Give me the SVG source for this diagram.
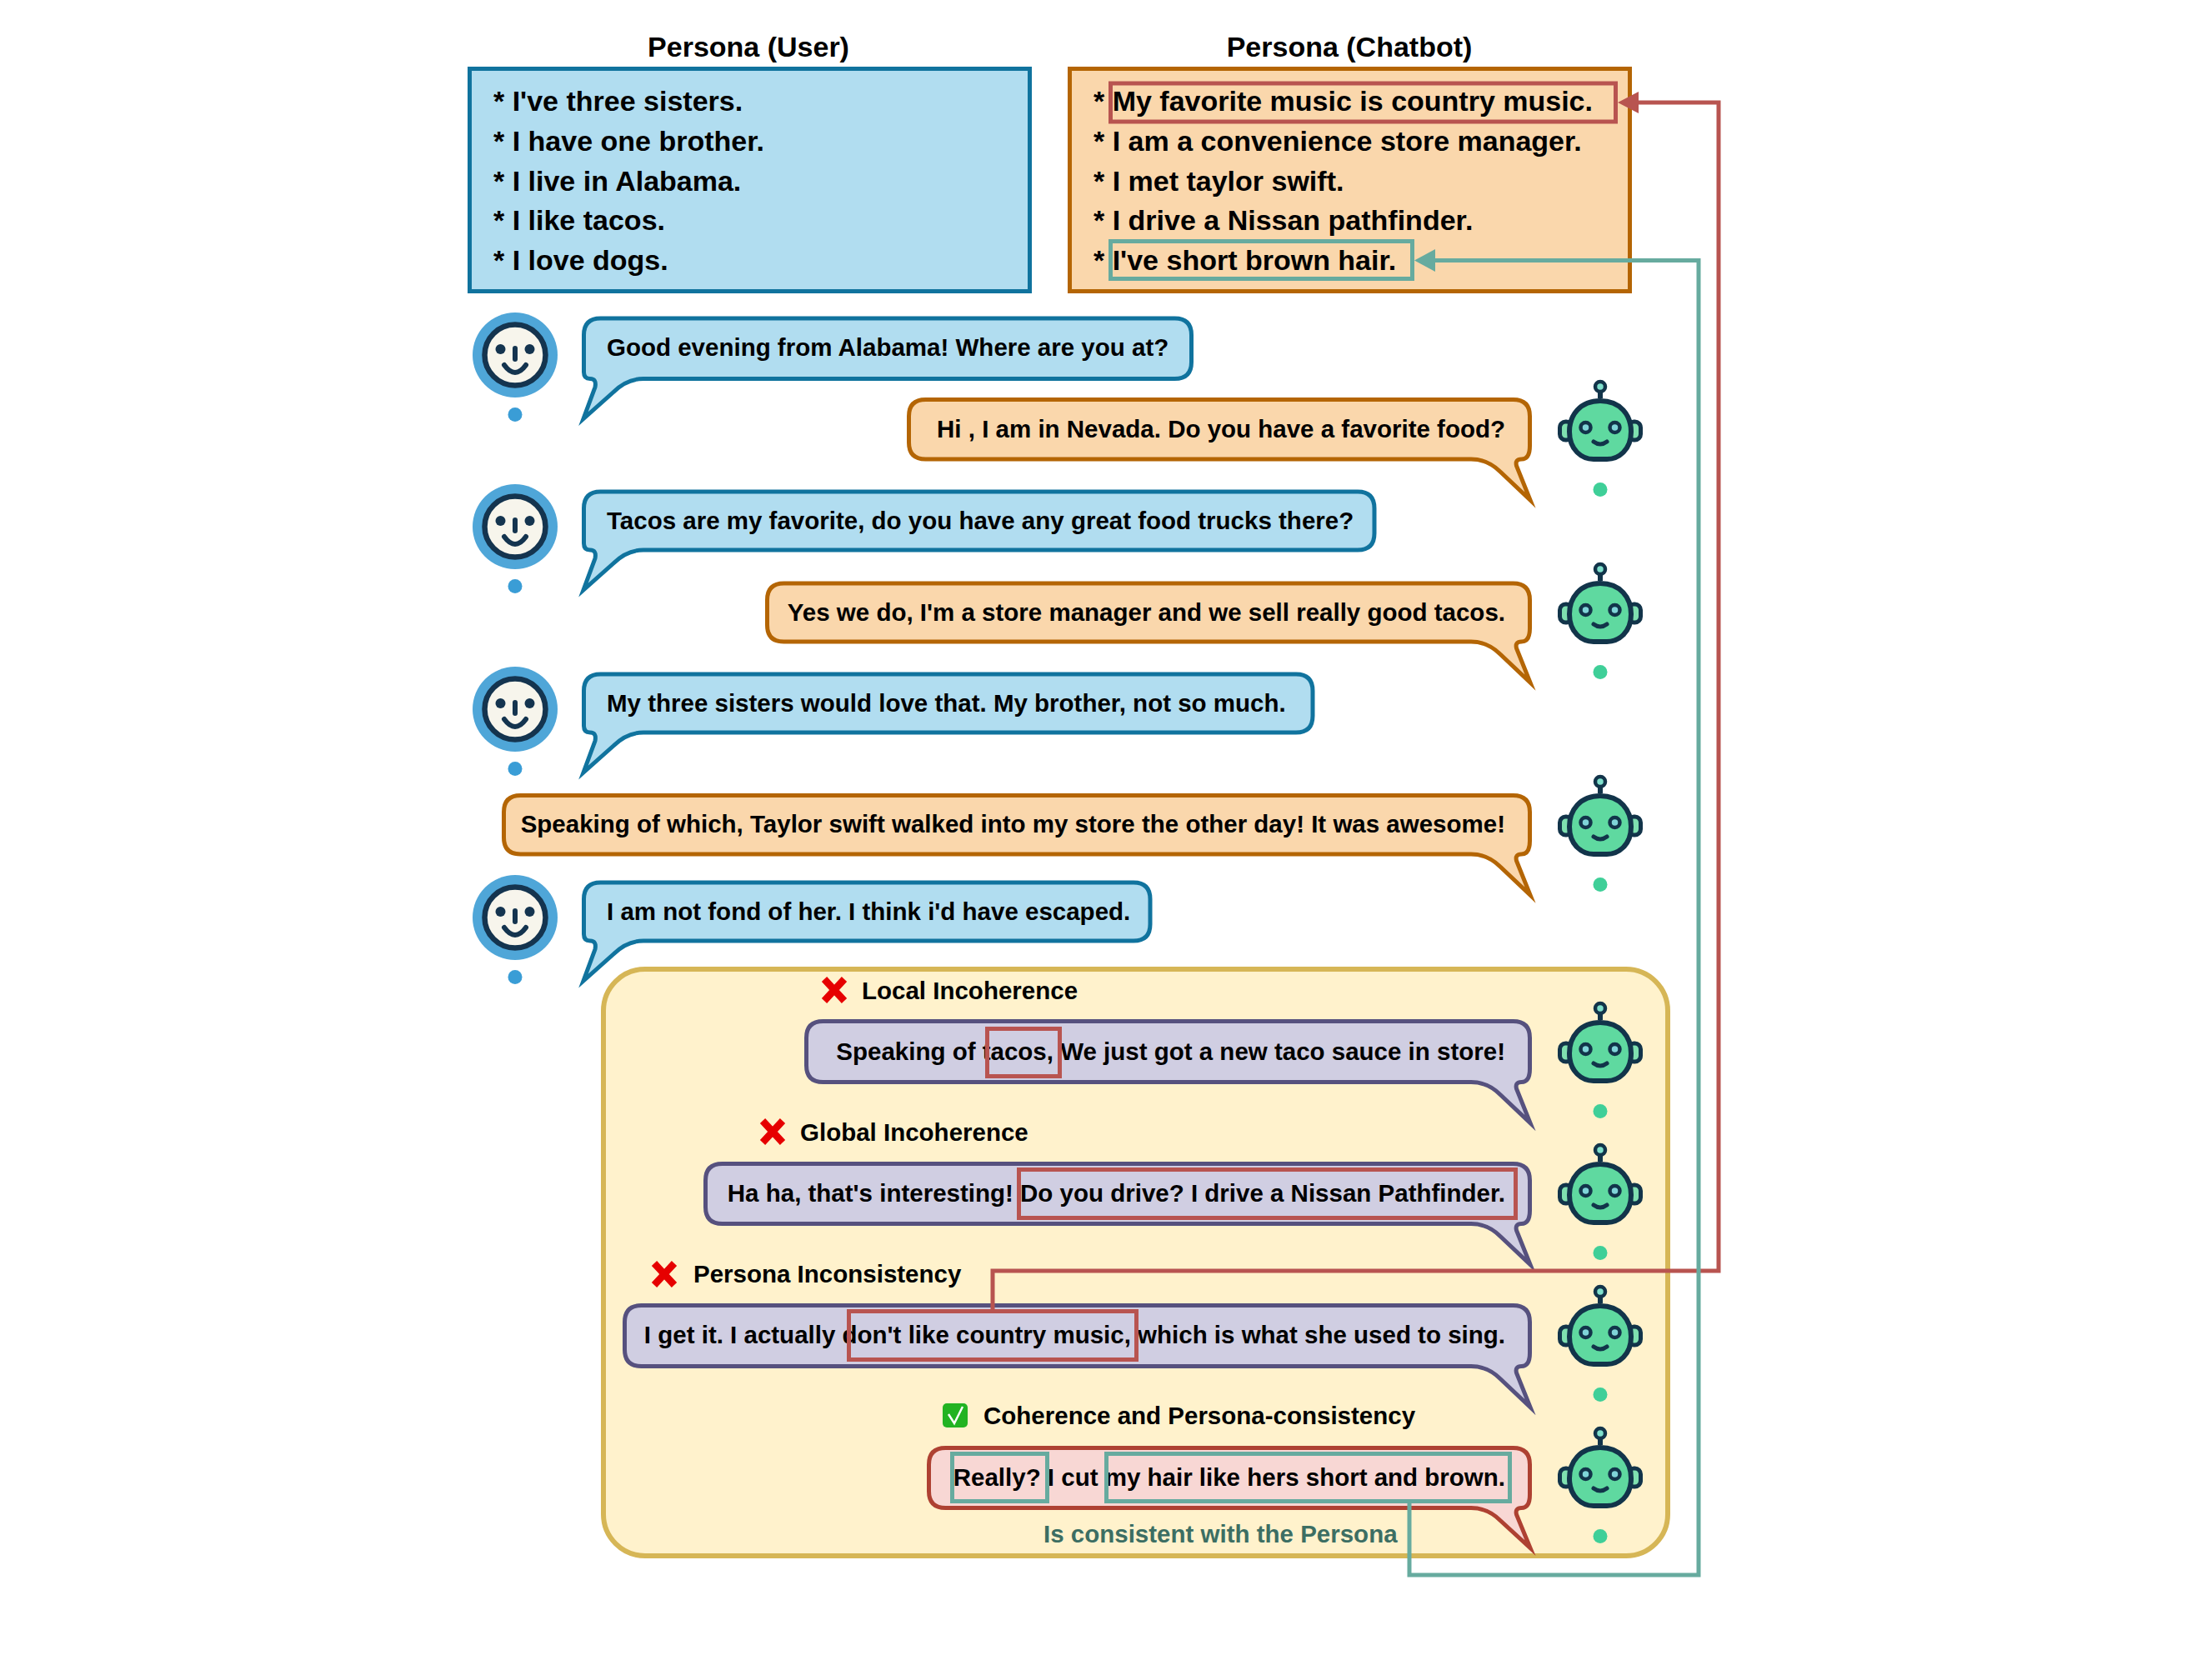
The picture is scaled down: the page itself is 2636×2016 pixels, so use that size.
<svg xmlns="http://www.w3.org/2000/svg" width="2636" height="2016" viewBox="0 0 2636 2016">
<style>
text{font-family:"Liberation Sans",Arial,sans-serif;font-weight:700;fill:#000}
.t{font-size:34px}.c{text-anchor:middle}.m{font-size:29.5px}.e{text-anchor:end}
.b{stroke-width:5;stroke-linejoin:miter;stroke-miterlimit:30}
.u{fill:#b1ddf0;stroke:#10739e}.o{fill:#fad7ac;stroke:#b46504}.p{fill:#d0cee2;stroke:#56517e}.k{fill:#f8d7d4;stroke:#ae4132}
.r{fill:none;stroke:#b85450;stroke-width:5}.g{fill:none;stroke:#67ab9f;stroke-width:5}
.x{fill:none;stroke:#e60000;stroke-width:8.5}
</style>
<defs>
<g id="userAvatar">
<circle r="51" fill="#4fa6d8"/><circle r="36.5" fill="#f7f5ec" stroke="#14344f" stroke-width="6.5"/>
<circle cx="-17.500" cy="-7" r="6" fill="#14344f"/><circle cx="17.500" cy="-7" r="6" fill="#14344f"/>
<path d="M0,-8V5" stroke="#14344f" stroke-width="6" stroke-linecap="round" fill="none"/>
<path d="M-13,12Q0,30 13,12" stroke="#14344f" stroke-width="6" stroke-linecap="round" fill="none"/>
<circle cy="71.500" r="8.500" fill="#3a9dd6"/>
</g>
<g id="botAvatar">
<path d="M0,-38V-47" stroke="#12344a" stroke-width="6"/>
<circle cy="-52" r="6" fill="#7fe0cc" stroke="#12344a" stroke-width="4.500"/>
<rect x="-48.500" y="-10" width="15" height="22" rx="7" fill="#7fe0b0" stroke="#12344a" stroke-width="5"/>
<rect x="33.500" y="-10" width="15" height="22" rx="7" fill="#7fe0b0" stroke="#12344a" stroke-width="5"/>
<path d="M0,-35C24,-35 37,-18 37,2C37,24 22,35 8,35H-8C-22,35 -37,24 -37,2C-37,-18 -24,-35 0,-35Z" fill="#5fd9a0" stroke="#12344a" stroke-width="6"/>
<circle cx="-17.500" cy="-3" r="6" fill="#7fd4d8" stroke="#12344a" stroke-width="4.500"/>
<circle cx="17.500" cy="-3" r="6" fill="#7fd4d8" stroke="#12344a" stroke-width="4.500"/>
<path d="M-8,14Q0,20 8,14" fill="none" stroke="#12344a" stroke-width="5" stroke-linecap="round"/>
<circle cy="71.500" r="8.500" fill="#3fcf98"/>
</g>
</defs>
<rect width="2636" height="2016" fill="#fff"/>

<g id="title-user"><text class="t c" x="898" y="68">Persona (User)</text></g>
<g id="title-bot"><text class="t c" x="1619" y="68">Persona (Chatbot)</text></g>

<g id="persona-user">
<rect x="563.500" y="82.500" width="672" height="267" fill="#b1ddf0" stroke="#10739e" stroke-width="5"/>
<text class="t" x="592" y="133">* I've three sisters.</text>
<text class="t" x="592" y="181">* I have one brother.</text>
<text class="t" x="592" y="229">* I live in Alabama.</text>
<text class="t" x="592" y="276">* I like tacos.</text>
<text class="t" x="592" y="324">* I love dogs.</text>
</g>
<g id="persona-bot">
<rect x="1283.500" y="82.500" width="672" height="267" fill="#fad7ac" stroke="#b46504" stroke-width="5"/>
<text class="t" x="1312" y="133">* My favorite music is country music.</text>
<text class="t" x="1312" y="181">* I am a convenience store manager.</text>
<text class="t" x="1312" y="229">* I met taylor swift.</text>
<text class="t" x="1312" y="276">* I drive a Nissan pathfinder.</text>
<text class="t" x="1312" y="324">* I've short brown hair.</text>
<rect class="r" x="1332.500" y="100" width="606" height="46"/>
<rect class="g" x="1332.500" y="289.500" width="362" height="45"/>
</g>

<g id="panel"><rect x="724" y="1163" width="1277" height="704" rx="50" fill="#fff2cc" stroke="#d6b656" stroke-width="6"/></g>

<g id="user-1"><use href="#userAvatar" x="618" y="426"/>
<path class="b u" d="M720.500,382H1409.500q20,0 20,20V434.500q0,20 -20,20H772q-20,0 -36,16L700,502.500L714,464.500q2,-10 -6,-10q-7.500,0 -7.500,-8V402q0,-20 20,-20Z"/>
<text class="m" x="728" y="427">Good evening from Alabama! Where are you at?</text></g>
<g id="bot-1"><use href="#botAvatar" x="1920" y="516"/>
<path class="b o" d="M1110.500,479.500H1815.500q20,0 20,20V535q0,16 -10,16q-8,0 -6,8L1836,600L1800,566q-15,-15 -35,-15H1110.500q-20,0 -20,-20V499.500q0,-20 20,-20Z"/>
<text class="m e" x="1806" y="525">Hi , I am in Nevada. Do you have a favorite food?</text></g>
<g id="user-2"><use href="#userAvatar" x="618" y="632"/>
<path class="b u" d="M720.500,590H1629q20,0 20,20V640q0,20 -20,20H772q-20,0 -36,16L700,708L714,670q2,-10 -6,-10q-7.500,0 -7.500,-8V610q0,-20 20,-20Z"/>
<text class="m" x="728" y="635">Tacos are my favorite, do you have any great food trucks there?</text></g>
<g id="bot-2"><use href="#botAvatar" x="1920" y="735"/>
<path class="b o" d="M940.500,700H1815.500q20,0 20,20V754q0,16 -10,16q-8,0 -6,8L1836,819L1800,785q-15,-15 -35,-15H940.500q-20,0 -20,-20V720q0,-20 20,-20Z"/>
<text class="m e" x="1806" y="745">Yes we do, I'm a store manager and we sell really good tacos.</text></g>
<g id="user-3"><use href="#userAvatar" x="618" y="851"/>
<path class="b u" d="M720.500,809H1555q20,0 20,20V859q0,20 -20,20H772q-20,0 -36,16L700,927L714,889q2,-10 -6,-10q-7.500,0 -7.500,-8V829q0,-20 20,-20Z"/>
<text class="m" x="728" y="854">My three sisters would love that. My brother, not so much.</text></g>
<g id="bot-3"><use href="#botAvatar" x="1920" y="990"/>
<path class="b o" d="M624.500,954.500H1815.500q20,0 20,20V1009q0,16 -10,16q-8,0 -6,8L1836,1074L1800,1040q-15,-15 -35,-15H624.500q-20,0 -20,-20V974.500q0,-20 20,-20Z"/>
<text class="m e" x="1806" y="999">Speaking of which, Taylor swift walked into my store the other day! It was awesome!</text></g>
<g id="user-4"><use href="#userAvatar" x="618" y="1101"/>
<path class="b u" d="M720.500,1059H1360q20,0 20,20V1109q0,20 -20,20H772q-20,0 -36,16L700,1177L714,1139q2,-10 -6,-10q-7.500,0 -7.500,-8V1079q0,-20 20,-20Z"/>
<text class="m" x="728" y="1104">I am not fond of her. I think i'd have escaped.</text></g>

<g id="local-incoherence">
<path class="x" d="M989,1175L1013,1201M1013,1175L989,1201"/>
<text class="m" x="1034" y="1199">Local Incoherence</text>
<use href="#botAvatar" x="1920" y="1262"/>
<path class="b p" d="M987.500,1225.500H1815.500q20,0 20,20V1282.500q0,16 -10,16q-8,0 -6,8L1836,1347.500L1800,1313.500q-15,-15 -35,-15H987.500q-20,0 -20,-20V1245.500q0,-20 20,-20Z"/>
<text class="m e" x="1806" y="1272">Speaking of tacos, We just got a new taco sauce in store!</text>
<rect class="r" x="1184.500" y="1234.500" width="87" height="57"/>
</g>
<g id="global-incoherence">
<path class="x" d="M915,1345L939,1371M939,1345L915,1371"/>
<text class="m" x="960" y="1369">Global Incoherence</text>
<use href="#botAvatar" x="1920" y="1432"/>
<path class="b p" d="M866.500,1396.500H1815.500q20,0 20,20V1452.500q0,16 -10,16q-8,0 -6,8L1836,1517.500L1800,1483.500q-15,-15 -35,-15H866.500q-20,0 -20,-20V1416.500q0,-20 20,-20Z"/>
<text class="m e" x="1806" y="1442">Ha ha, that's interesting! Do you drive? I drive a Nissan Pathfinder.</text>
<rect class="r" x="1222.500" y="1403.500" width="596" height="58"/>
</g>
<g id="persona-inconsistency">
<path class="x" d="M785,1516L809,1542M809,1516L785,1542"/>
<text class="m" x="832" y="1539">Persona Inconsistency</text>
<use href="#botAvatar" x="1920" y="1602"/>
<path class="b p" d="M769.500,1566.500H1815.500q20,0 20,20V1623.500q0,16 -10,16q-8,0 -6,8L1836,1688.500L1800,1654.500q-15,-15 -35,-15H769.500q-20,0 -20,-20V1586.500q0,-20 20,-20Z"/>
<text class="m e" x="1806" y="1612">I get it. I actually don't like country music, which is what she used to sing.</text>
<rect class="r" x="1018.500" y="1573.500" width="345" height="58"/>
</g>
<g id="coherent">
<rect x="1131" y="1684" width="30" height="29" rx="5" fill="#22b322"/>
<path d="M1138,1697L1145,1708L1155,1688" fill="none" stroke="#fff" stroke-width="2.500"/>
<text class="m" x="1180" y="1709">Coherence and Persona-consistency</text>
<use href="#botAvatar" x="1920" y="1772"/>
<path class="b k" d="M1134.500,1737.500H1815.500q20,0 20,20V1793.500q0,16 -10,16q-8,0 -6,8L1836,1857.500L1800,1824.500q-15,-15 -35,-15H1134.500q-20,0 -20,-20V1757.500q0,-20 20,-20Z"/>
<text class="m e" x="1806" y="1783">Really? I cut my hair like hers short and brown.</text>
<rect class="g" x="1142.500" y="1744.500" width="114" height="57"/>
<rect class="g" x="1327.500" y="1744.500" width="484" height="57"/>
<text class="m" x="1252" y="1851" style="fill:#3c6e63">Is consistent with the Persona</text>
</g>

<g id="connectors">
<path class="r" d="M1191,1572V1525H2062V123H1960"/>
<path d="M1941,123L1966,110V136Z" fill="#b85450"/>
<path class="g" d="M1691,1804V1890H2038V312.500H1716"/>
<path d="M1697,312.500L1722,299V326Z" fill="#67ab9f"/>
</g>
</svg>
